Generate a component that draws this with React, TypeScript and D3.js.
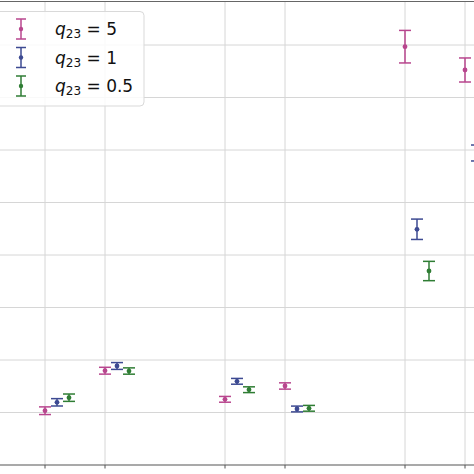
import React from "react";
import * as d3 from "d3";

const xTicks = [1, 2, 4, 5, 7, 8];
const yTicks = [1, 2, 3, 4, 5, 6, 7, 8];
const groups = [1, 2, 4, 5, 7, 8];
const seriesLabels = ["5", "1", "0.5"];
const seriesColors = ["#b8468e", "#3d4a92", "#2f7d34"];
const seriesOffsets = [0, 0.2, 0.4];
const pinkValues = [1.034, 1.796, 1.251, 1.505, 7.968, 7.524];
const pinkErrors = [0.073, 0.065, 0.055, 0.06, 0.31, 0.229];
const blueValues = [1.194, 1.886, 1.594, 1.067, 4.49, 5.943];
const blueErrors = [0.07, 0.065, 0.055, 0.055, 0.194, 0.152];
const greenValues = [1.282, 1.79, 1.434, 1.08, 3.695, 5.3];
const greenErrors = [0.07, 0.06, 0.055, 0.055, 0.184, 0.16];

const W = 474;
const H = 474;

export default function App() {
  const x = d3.scaleLinear().domain([0.25, 0.25 + W / 60]).range([0, W]);
  const y = d3.scaleLinear().domain([0, 463 / 52.5]).range([465, 2]);
  const series = [
    { values: pinkValues, errors: pinkErrors },
    { values: blueValues, errors: blueErrors },
    { values: greenValues, errors: greenErrors },
  ];
  const font = "'DejaVu Sans', sans-serif";
  return (
    <svg
      width={W}
      height={H}
      style={{ position: "fixed", left: 0, top: 0, background: "#fff" }}
    >
      <rect x={0} y={0} width={W} height={H} fill="#fff" />
      {yTicks.map((t) => (
        <line key={"gy" + t} x1={0} x2={W} y1={y(t)} y2={y(t)} stroke="#d6d6d6" strokeWidth={1} />
      ))}
      {xTicks.map((t) => (
        <line key={"gx" + t} x1={x(t)} x2={x(t)} y1={y.range()[1]} y2={y(0)} stroke="#d6d6d6" strokeWidth={1} />
      ))}
      <line x1={0} x2={W} y1={1.5} y2={1.5} stroke="#666" strokeWidth={1.2} />
      <line x1={0} x2={W} y1={y(0)} y2={y(0)} stroke="#555" strokeWidth={1.2} />
      {xTicks.map((t) => (
        <line key={"tx" + t} x1={x(t)} x2={x(t)} y1={y(0)} y2={y(0) + 3.5} stroke="#555" strokeWidth={1} />
      ))}
      {series.map((s, si) =>
        groups.map((g, gi) => {
          const cx = x(g + seriesOffsets[si]);
          const v = s.values[gi];
          const e = s.errors[gi];
          const y1 = y(v + e);
          const y2 = y(v - e);
          const c = seriesColors[si];
          return (
            <g key={"p" + si + "-" + gi}>
              <line x1={cx} x2={cx} y1={y1} y2={y2} stroke={c} strokeWidth={1.5} />
              <line x1={cx - 6} x2={cx + 6} y1={y1} y2={y1} stroke={c} strokeWidth={1.5} />
              <line x1={cx - 6} x2={cx + 6} y1={y2} y2={y2} stroke={c} strokeWidth={1.5} />
              <circle cx={cx} cy={y(v)} r={2.4} fill={c} />
            </g>
          );
        })
      )}
      <rect x={-10} y={11.5} width={154} height={94.5} rx={4} fill="#fff" fillOpacity={0.85} stroke="#d9d9d9" strokeWidth={1} />
      {seriesLabels.map((lab, i) => {
        const cy = 29 + i * 28.5;
        const c = seriesColors[i];
        return (
          <g key={"leg" + i}>
            <line x1={21} x2={21} y1={cy - 10} y2={cy + 10} stroke={c} strokeWidth={1.5} />
            <line x1={16} x2={26} y1={cy - 10} y2={cy - 10} stroke={c} strokeWidth={1.5} />
            <line x1={16} x2={26} y1={cy + 10} y2={cy + 10} stroke={c} strokeWidth={1.5} />
            <circle cx={21} cy={cy} r={2.2} fill={c} />
            <text x={55} y={cy + 6} fontFamily={font} fontSize={17} fill="#111">
              <tspan fontStyle="italic">q</tspan>
              <tspan fontSize={12} dy={3}>23</tspan>
              <tspan dy={-3}>{" = " + lab}</tspan>
            </text>
          </g>
        );
      })}
    </svg>
  );
}
